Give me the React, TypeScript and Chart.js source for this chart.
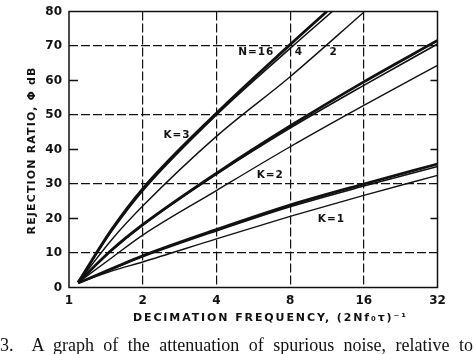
import React, { useEffect, useRef } from "react";
import { Chart, registerables } from "chart.js";

Chart.register(...registerables);

// Axis ticks
const xTicks = [1, 2, 4, 8, 16, 32];
const xDashed = [2, 4, 8, 16];
const yDashed = [10, 30, 50, 70];
const yInnerTicks = [20, 40, 60];

// Decimation frequency sample points
const freq = [1.09, 1.5, 2, 4, 8, 16, 32];

// K = 3 (curves leave the plot at 80 dB)
const k3n16X = [1.09, 1.5, 2, 4, 8, 11.3];
const k3n16Y = [1.5, 17, 28.6, 50.5, 70.4, 80];
const k3n4X = [1.09, 1.5, 2, 4, 8, 11.9];
const k3n4Y = [1.5, 16.5, 28, 50, 69.3, 80];
const k3n2X = [1.09, 1.5, 2, 4, 8, 16];
const k3n2Y = [1.5, 14, 23.6, 43.8, 61.1, 79.8];

// K = 2
const k2n16 = [1.5, 11, 18.2, 33.1, 46.8, 59.6, 71.6];
const k2n4 = [1.5, 10.8, 18, 32.8, 46.2, 58.6, 70.6];
const k2n2 = [1.5, 8.7, 15.2, 28.1, 40.8, 52.8, 64.4];

// K = 1
const k1n16 = [1.3, 5.5, 9.2, 16.8, 23.9, 30.0, 35.8];
const k1n4 = [1.3, 5.3, 8.9, 16.4, 23.4, 29.4, 35.1];
const k1n2 = [1.3, 4.8, 7.4, 14.1, 20.6, 26.7, 32.5];

// In-plot annotations (data coordinates)
const noteText = ["N=16", "4", "2", "K=3", "K=2", "K=1"];
const noteX = [5.79, 8.64, 12.0, 2.75, 6.61, 11.74];
const noteY = [68.3, 68.1, 68.1, 44, 32.6, 19.7];

const xTitle = "DECIMATION FREQUENCY, (2Nf\u2080\u03C4)\u207B\u00B9";
const yTitle = "REJECTION RATIO, \u03A6 dB";
const caption = "3.\u00A0 A graph of the attenuation of spurious noise, relative to";

const INK = "#111";
const FAMILY = '"DejaVu Sans", "Liberation Sans", sans-serif';

const pts = (xs: number[], ys: number[]) => xs.map((x, i) => ({ x, y: ys[i] }));

function drawSpaced(ctx: any, text: string, cx: number, cy: number, width: number) {
  ctx.letterSpacing = "0px";
  const w0 = ctx.measureText(text).width;
  const n = Array.from(text).length;
  const ls = Math.max(0, (width - w0) / n);
  ctx.letterSpacing = ls + "px";
  ctx.fillText(text, cx + ls / 2, cy);
  ctx.letterSpacing = "0px";
}

const decor = {
  id: "decor",
  afterDraw(chart: any) {
    const { ctx, chartArea: a, scales } = chart;
    const x = scales.x;
    const y = scales.y;
    ctx.save();
    ctx.strokeStyle = INK;
    ctx.lineWidth = 1.5;
    ctx.strokeRect(a.left, a.top, a.right - a.left, a.bottom - a.top);

    ctx.lineWidth = 1.3;
    yInnerTicks.forEach((v) => {
      const py = y.getPixelForValue(v);
      ctx.beginPath();
      ctx.moveTo(a.left, py);
      ctx.lineTo(a.left + 9, py);
      ctx.moveTo(a.right, py);
      ctx.lineTo(a.right - 7, py);
      ctx.stroke();
    });

    ctx.fillStyle = INK;
    ctx.textAlign = "center";
    ctx.textBaseline = "middle";
    ctx.font = "bold 10.5px " + FAMILY;
    noteText.forEach((t, i) => {
      const px = x.getPixelForValue(noteX[i]);
      const py = y.getPixelForValue(noteY[i]);
      ctx.letterSpacing = "1px";
      ctx.fillText(t, px + 0.5, py);
    });
    ctx.letterSpacing = "0px";

    ctx.font = "bold 11px " + FAMILY;
    drawSpaced(ctx, xTitle, 269.5, 318.5, 275);

    ctx.translate(32, 151);
    ctx.rotate(-Math.PI / 2);
    drawSpaced(ctx, yTitle, 0, 0, 168);
    ctx.restore();
  },
};

export default function App() {
  const ref = useRef<HTMLCanvasElement | null>(null);

  useEffect(() => {
    if (!ref.current) return;
    const line = (data: any[], w: number) => ({
      data,
      borderColor: INK,
      borderWidth: w,
      pointRadius: 0,
      fill: false,
      cubicInterpolationMode: "monotone" as const,
    });
    const tickFont = { family: FAMILY, size: 12, weight: "bold" as const, lineHeight: 0.75 };
    const chart = new Chart(ref.current, {
      type: "line",
      data: {
        datasets: [
          line(pts(k3n16X, k3n16Y), 2.8),
          line(pts(k3n4X, k3n4Y), 1.6),
          line(pts(k3n2X, k3n2Y), 1.4),
          line(pts(freq, k2n16), 2.8),
          line(pts(freq, k2n4), 1.6),
          line(pts(freq, k2n2), 1.4),
          line(pts(freq, k1n16), 2.8),
          line(pts(freq, k1n4), 1.6),
          line(pts(freq, k1n2), 1.4),
        ],
      },
      options: {
        animation: false,
        responsive: false,
        maintainAspectRatio: false,
        layout: { padding: { left: 0, right: 36.5, top: 4.5, bottom: 0 } },
        plugins: { legend: { display: false }, tooltip: { enabled: false } },
        scales: {
          x: {
            type: "logarithmic",
            min: 1,
            max: 32,
            afterBuildTicks: (s: any) => {
              s.ticks = xTicks.map((v) => ({ value: v }));
            },
            afterFit: (s: any) => {
              s.height = 66.5;
            },
            ticks: {
              callback: (v: any) => String(v),
              font: tickFont,
              color: INK,
              padding: 8.5,
              maxRotation: 0,
              autoSkip: false,
            },
            grid: {
              color: (c: any) => (xDashed.includes(c.tick?.value) ? INK : "rgba(0,0,0,0)"),
              lineWidth: 1.2,
              drawTicks: false,
            },
            border: { display: false, dash: [9, 3] },
          },
          y: {
            min: 0,
            max: 80,
            afterFit: (s: any) => {
              s.width = 69;
            },
            ticks: { stepSize: 10, font: tickFont, color: INK, padding: 7 },
            grid: {
              color: (c: any) => (yDashed.includes(c.tick?.value) ? INK : "rgba(0,0,0,0)"),
              lineWidth: 1.2,
              drawTicks: false,
            },
            border: { display: false, dash: [9, 3] },
          },
        },
      },
      plugins: [decor],
    });
    return () => chart.destroy();
  }, []);

  return (
    <div style={{ position: "absolute", left: 0, top: 0, width: 474, height: 354, background: "#fff", overflow: "hidden" }}>
      <canvas ref={ref} width={474} height={354} style={{ display: "block", width: 474, height: 354 }} />
      <div
        style={{
          position: "absolute",
          left: 0,
          top: 336.4,
          width: 473,
          fontFamily: '"Liberation Serif", "DejaVu Serif", serif',
          fontSize: 18,
          lineHeight: "18px",
          color: INK,
          textAlign: "justify",
          textAlignLast: "justify",
          whiteSpace: "nowrap",
        }}
      >
        {caption}
      </div>
    </div>
  );
}
